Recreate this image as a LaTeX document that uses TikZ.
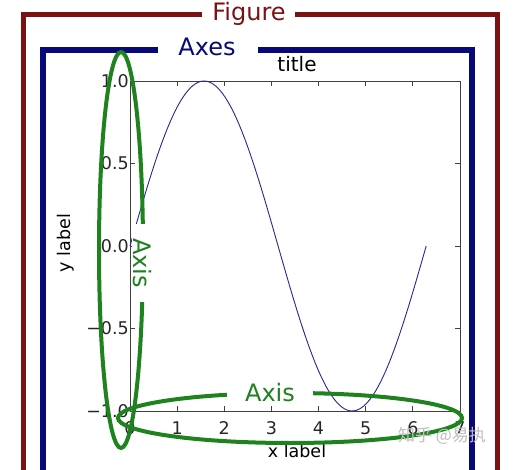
\documentclass[tikz,border=0pt]{standalone}
\usepackage{fontspec}
\setmainfont{DejaVu Sans}
\newfontfamily\cjk{Noto Sans CJK SC}
\definecolor{figred}{RGB}{122,18,20}
\definecolor{axnavy}{RGB}{8,8,120}
\definecolor{axgreen}{RGB}{30,130,30}
\definecolor{curveblue}{RGB}{40,40,140}
\begin{document}
\begin{tikzpicture}[x=1pt,y=-1pt,
  big/.style={font=\fontsize{24}{28}\selectfont},
  mid/.style={font=\fontsize{20}{24}\selectfont},
  small/.style={font=\fontsize{17.5}{21}\selectfont},
  figframe/.style={draw=figred,line width=5pt},
  axframe/.style={draw=axnavy,line width=6pt},
  axisring/.style={draw=axgreen,line width=4pt},
  gaplabel/.style={big,text=axgreen,fill=white},
  tickline/.style={draw=black!75,line width=0.8pt}]
\clip (0,0) rectangle (519,470);
\fill[white] (0,0) rectangle (519,470);
% Figure frame
\node[big,text=figred] (figlbl) at (249,14) {Figure};
\draw[figframe] (202,15) -- (23,15) -- (23,480);
\draw[figframe] (295,15) -- (497,15) -- (497,480);
% Axes frame
\node[big,text=axnavy] (axlbl) at (207,47) {Axes};
\draw[axframe] (158,50) -- (43,50) -- (43,480);
\draw[axframe] (258,50) -- (472,50) -- (472,480);
% plot box
\draw[tickline] (130,81) rectangle (460,411);
\foreach \i in {0,...,7}{
  \draw[tickline] ({130+47.14*\i},411) -- ({130+47.14*\i},406);
  \draw[tickline] ({130+47.14*\i},81) -- ({130+47.14*\i},86);
  \node[small,text=black!85] (xt\i) at ({130+47.14*\i},428) {\i};
}
\foreach \v/\lab [count=\k] in {1/1.0,0.5/0.5,0/0.0,-0.5/−0.5,-1/−1.0}{
  \draw[tickline] (130,{246-165*\v}) -- (135,{246-165*\v});
  \draw[tickline] (460,{246-165*\v}) -- (455,{246-165*\v});
  \node[small,text=black!85,anchor=east,inner sep=0pt] (yt\k) at (129,{246-165*\v}) {\lab};
}
\draw[curveblue,line width=0.9pt] plot[domain=0:6.2832,samples=120,smooth] ({130+47.14*\x},{246-165*sin(\x r)});
\node[mid] (title) at (297,64) {title};
\node[small] (xlab) at (297,451) {x label};
\node[small,rotate=90] (ylab) at (66,243) {y label};
% Axis ellipses
\draw[axisring] (121,250) ellipse [x radius=22, y radius=198];
\draw[axisring] (290,418) ellipse [x radius=172, y radius=25];
\node[gaplabel,rotate=-90,inner xsep=14pt,inner ysep=1pt] (vaxis) at (142,263) {Axis};
\node[gaplabel,inner xsep=18pt,inner ysep=1pt] (haxis) at (270,393) {Axis};
% watermark
\node[font=\cjk\fontsize{17}{20}\selectfont,text=black!25] (wm) at (442,436) {知乎 @易执};
\end{tikzpicture}
\end{document}
